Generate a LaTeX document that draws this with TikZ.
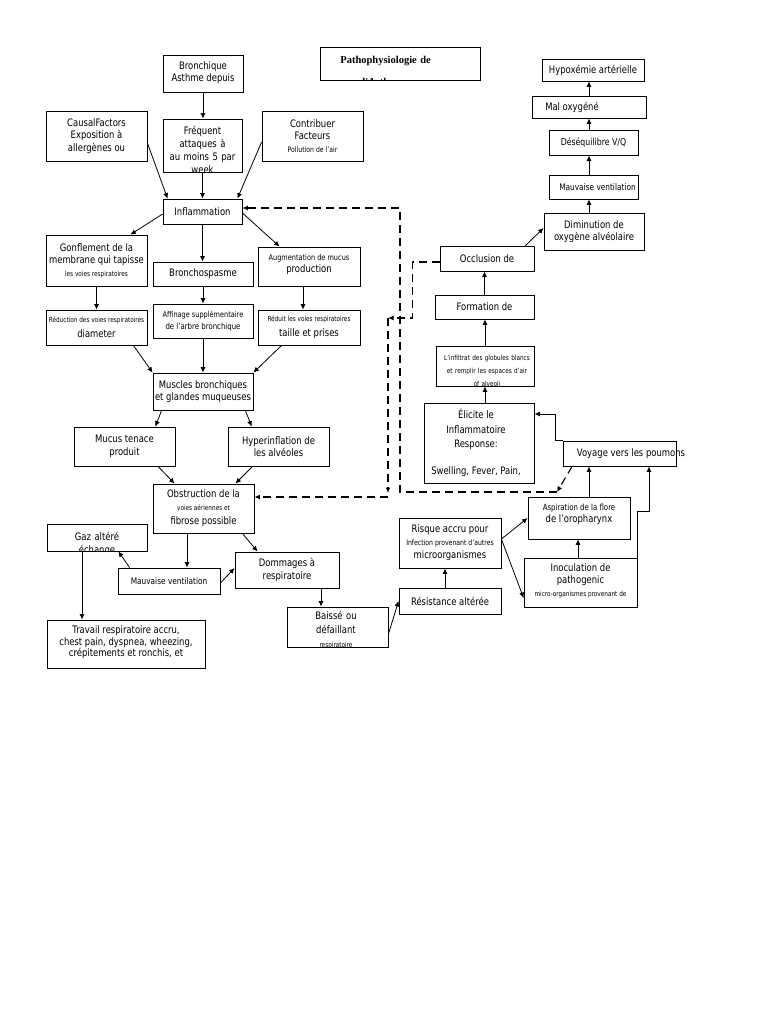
\documentclass[tikz,border=0pt]{standalone}
\usepackage{fontspec}
\setmainfont{DejaVu Sans}[FakeStretch=0.82]
\newfontfamily\titlefam{Liberation Serif}
\usetikzlibrary{arrows.meta,fit,calc}
\newcommand\nrmf{\fontsize{10.3}{12.5}\selectfont}
\newcommand\tnyf{\fontsize{7}{8}\selectfont}
\newcommand\midf{\fontsize{8}{10}\selectfont}
\begin{document}
\begin{tikzpicture}[x=1pt,y=-1pt,
  bx/.style={draw, line width=0.8pt, inner sep=0pt},
  lb/.style={align=center, inner sep=0pt, font=\nrmf},
  ar/.style={-{Latex[length=5.5pt,width=5pt]}, line width=0.8pt},
  da/.style={-{Latex[length=5.5pt,width=5pt]}, line width=1.1pt, dash pattern=on 8pt off 5pt}]
\fill[white] (0,0) rectangle (768,1024);
\useasboundingbox (0,0) rectangle (768,1024);

% ---------- title ----------
\node[bx, fit={(320,47) (480,80)}, path picture={\node[anchor=west, align=left, inner sep=0pt, font=\titlefam\bfseries\fontsize{10.5}{16}\selectfont] (titleT) at ([xshift=20pt,yshift=-11pt]path picture bounding box.west) {Pathophysiologie de\\[6pt]\hspace*{22pt}l'Asthme};}] (title) {};

% ---------- left column ----------
\node[bx, fit={(163,55) (243,92)}, label={[lb,yshift=1pt]center:{Bronchique\\Asthme depuis}}] (bronch) {};
\node[bx, fit={(46,111) (147,161)}, label={[lb]center:{CausalFactors\\Exposition à\\allergènes ou}}] (causal) {};
\node[bx, fit={(163,119) (242,172)}, path picture={\node[lb,font=\fontsize{10.3}{13}\selectfont,yshift=-9pt] (freqT) at (path picture bounding box.center) {Fréquent\\attaques à\\au moins 5 par\\week};}] (freq) {};
\node[bx, fit={(262,111) (363,161)}, label={[lb]center:{Contribuer\\Facteurs\\{\fontsize{7.5}{9}\selectfont Pollution de l'air}}}] (contrib) {};
\node[bx, fit={(163,199) (242,224)}, label={[lb]center:{Inflammation}}] (inflam) {};

\node[bx, fit={(46,235) (147,286)}, label={[lb,yshift=0pt]center:{Gonflement de la\\membrane qui tapisse\\{\tnyf les voies respiratoires}}}] (gonfl) {};
\node[bx, fit={(153,262) (253,286)}, label={[lb]center:{Bronchospasme}}] (bspasm) {};
\node[bx, fit={(258,247) (360,286)}, label={[lb,yshift=2pt]center:{{\midf Augmentation de mucus}\\production}}] (augm) {};

\node[bx, fit={(46,310) (147,345)}, label={[lb]center:{{\tnyf Réduction des voies respiratoires}\\[2pt]diameter}}] (reduc) {};
\node[bx, fit={(153,304) (253,338)}, label={[lb]center:{{\midf Affinage supplémentaire}\\{\fontsize{8.5}{10}\selectfont de l'arbre bronchique}}}] (affin) {};
\node[bx, fit={(258,310) (360,345)}, label={[lb]center:{{\tnyf Réduit les voies respiratoires}\\[2pt]taille et prises}}] (reduit) {};

\node[bx, fit={(153,373) (253,410)}, label={[lb]center:{Muscles bronchiques\\et glandes muqueuses}}] (muscles) {};
\node[bx, fit={(74,427) (175,466)}, label={[lb]center:{Mucus tenace\\produit}}] (mucus) {};
\node[bx, fit={(228,427) (329,466)}, label={[lb]center:{Hyperinflation de\\les alvéoles}}] (hyper) {};

\node[bx, fit={(153,484) (254,533)}, label={[lb]center:{Obstruction de la\\{\tnyf voies aériennes et}\\[2pt]fibrose possible}}] (obstr) {};
\node[bx, fit={(47,524) (147,551)}, path picture={\node[lb,yshift=-10.5pt] (gazT) at (path picture bounding box.center) {Gaz altéré\\échange};}] (gaz) {};
\node[bx, fit={(118,568) (220,594)}, label={[lb]center:{{\fontsize{9}{10}\selectfont Mauvaise ventilation}}}] (mvent) {};
\node[bx, fit={(235,552) (339,588)}, label={[lb]center:{Dommages à\\respiratoire}}] (domm) {};
\node[bx, fit={(287,607) (388,647)}, path picture={\node[lb,xshift=-1.5pt,yshift=-7pt,font=\fontsize{10.3}{14.5}\selectfont] (baisseT) at (path picture bounding box.center) {Baissé ou\\défaillant\\[-1pt]{\tnyf respiratoire}};}] (baisse) {};
\node[bx, fit={(47,620) (205,668)}, label={[lb,font=\fontsize{10.3}{11.5}\selectfont,yshift=1.5pt]center:{Travail respiratoire accru,\\chest pain, dyspnea, wheezing,\\crépitements et ronchis, et}}] (travail) {};

% ---------- right column ----------
\node[bx, fit={(542,59) (644,81)}, label={[lb]center:{Hypoxémie artérielle}}] (hypox) {};
\node[bx, fit={(532,96) (646,118)}, label={[lb,xshift=-17pt]center:{Mal oxygéné}}] (maloxy) {};
\node[bx, fit={(549,130) (638,155)}, label={[lb,font=\fontsize{9.5}{11}\selectfont]center:{Déséquilibre V/Q}}] (desequ) {};
\node[bx, fit={(549,175) (638,199)}, label={[lb,xshift=4pt,font=\fontsize{9}{10}\selectfont]center:{Mauvaise ventilation}}] (mventR) {};
\node[bx, fit={(544,213) (644,250)}, label={[lb]center:{Diminution de\\oxygène alvéolaire}}] (dimin) {};

\node[bx, fit={(440,246) (534,271)}, label={[lb]center:{Occlusion de}}] (occl) {};
\node[bx, fit={(435,295) (534,319)}, label={[lb]center:{Formation de}}] (format) {};
\node[bx, fit={(436,346) (534,386)}, path picture={\node[lb,font=\fontsize{7}{13}\selectfont,xshift=2pt,yshift=-8pt] (infilT) at (path picture bounding box.center) {L'infiltrat des globules blancs\\et remplir les espaces d'air\\of alveoli};}] (infil) {};
\node[bx, fit={(424,403) (534,483)}, label={[lb,font=\fontsize{10.3}{14.25}\selectfont,xshift=-3pt]center:{Élicite le\\Inflammatoire\\Response:\\[12.75pt]Swelling, Fever, Pain,}}] (elic) {};
\node[bx, fit={(563,441) (676,466)}, label={[lb,xshift=11.5pt]center:{Voyage vers les poumons}}] (voyage) {};

\node[bx, fit={(528,497) (630,539)}, label={[lb,yshift=3.5pt]center:{{\fontsize{8.5}{10}\selectfont Aspiration de la flore}\\de l'oropharynx}}] (aspir) {};
\node[bx, fit={(399,518) (501,568)}, label={[lb]center:{Risque accru pour\\{\fontsize{7.5}{9}\selectfont Infection provenant d'autres}\\[1pt]microorganismes}}] (risque) {};
\node[bx, fit={(399,588) (501,614)}, label={[lb]center:{Résistance altérée}}] (resist) {};
\node[bx, fit={(524,558) (637,607)}, label={[lb,yshift=2pt]center:{Inoculation de\\pathogenic\\{\tnyf micro-organismes provenant de}}}] (inocul) {};

% ---------- solid connectors ----------
\draw[ar] (bronch.south) -- (bronch.south |- freq.north);
\draw[ar] (freq.south) -- (freq.south |- inflam.north);
\draw[ar] ([yshift=-7pt]causal.east) -- ([xshift=5pt]inflam.north west);
\draw[ar] ([yshift=-6pt]contrib.west) -- ([xshift=-5pt]inflam.north east);
\draw[ar] ([yshift=-2.5pt]inflam.west) -- ([xshift=-17pt]gonfl.north east);
\draw[ar] (inflam.south) -- (inflam.south |- bspasm.north);
\draw[ar] ([yshift=-1.5pt]inflam.east) -- ([xshift=22pt]augm.north west);
\draw[ar] (gonfl.south) -- (gonfl.south |- reduc.north);
\draw[ar] (bspasm.south) -- (bspasm.south |- affin.north);
\draw[ar] ([xshift=-6pt]augm.south) -- ([xshift=-6pt]augm.south |- reduit.north);
\draw[ar] ([xshift=-14pt]reduc.south east) -- (muscles.north west);
\draw[ar] (affin.south) -- (affin.south |- muscles.north);
\draw[ar] ([xshift=24pt]reduit.south west) -- (muscles.north east);
\draw[ar] ([xshift=9pt]muscles.south west) -- ([xshift=-20pt]mucus.north east);
\draw[ar] ([xshift=-8pt]muscles.south east) -- ([xshift=24pt]hyper.north west);
\draw[ar] ([xshift=33.5pt]mucus.south) -- ([xshift=22pt]obstr.north west);
\draw[ar] ([xshift=25pt]hyper.south west) -- ([xshift=-19pt]obstr.north east);
\draw[ar] ([xshift=-16.5pt]obstr.south) -- ([xshift=-16.5pt]obstr.south |- mvent.north);
\draw[ar] ([xshift=-12pt]obstr.south east) -- ([xshift=23pt]domm.north west);
\draw[ar] ([xshift=12pt]mvent.north west) -- ([xshift=-29pt]gaz.south east);
\draw[ar] ([yshift=-2pt]mvent.east) -- ([yshift=2pt]domm.west);
\draw[ar] ([xshift=-15pt]gaz.south) -- ([xshift=-15pt]gaz.south |- travail.north);
\draw[ar] ([xshift=34pt]domm.south) -- ([xshift=34pt]domm.south |- baisse.north);
\draw[ar] ([yshift=-7pt]baisse.east) -- (resist.west);
\draw[ar] ([xshift=-5pt]resist.north) -- ([xshift=-5pt]resist.north |- risque.south);
\draw[ar] ([yshift=4pt]risque.east) -- (aspir.west);
\draw[ar] ([yshift=4pt]risque.east) -- ([yshift=-15.5pt]inocul.west);
\draw[ar] ([xshift=-2.5pt]inocul.north) -- ([xshift=-2.5pt]inocul.north |- aspir.south);
\draw[ar] ([xshift=10pt]aspir.north) -- ([xshift=10pt]aspir.north |- voyage.south);
\draw[ar] (inocul.north east) -- ++(0,-46) -| ([xshift=29.5pt]voyage.south);
\draw[ar] (voyage.north west) -- ++(-7,0) |- ([yshift=29pt]elic.east);
\draw[ar] (infil.south |- elic.north) -- (infil.south);
\draw[ar] (infil.north) -- (infil.north |- format.south);
\draw[ar] (format.north) -- (format.north |- occl.south);
\draw[ar] ([xshift=-9pt]occl.north east) -- ([yshift=3.5pt]dimin.west);
\draw[ar] ([xshift=-5pt]dimin.north) -- ([xshift=-5pt]dimin.north |- mventR.south);
\draw[ar] ([xshift=-4.5pt]mventR.north) -- ([xshift=-4.5pt]mventR.north |- desequ.south);
\draw[ar] ([xshift=-4.5pt]desequ.north) -- ([xshift=-4.5pt]desequ.north |- maloxy.south);
\draw[ar] (maloxy.north) -- (maloxy.north |- hypox.south);

% ---------- dashed connectors ----------
\coordinate (dA) at (557,492);
\coordinate (dV) at (400,208);
\coordinate (dC) at (388,318);
\coordinate (dD) at (388,493);
\draw[da] ([xshift=9.5pt]voyage.south west) -- (dA);
\draw[da] (dA) -| (dV) -- ([yshift=3.5pt]inflam.east);
\draw[da] ([yshift=-3.5pt]occl.west) -- ++(-27,0) |- (dC);
\draw[da] (dC) -- (dD);
\draw[da] ([yshift=-4pt]dD) -- ([yshift=11.5pt]obstr.east);
\end{tikzpicture}
\end{document}
